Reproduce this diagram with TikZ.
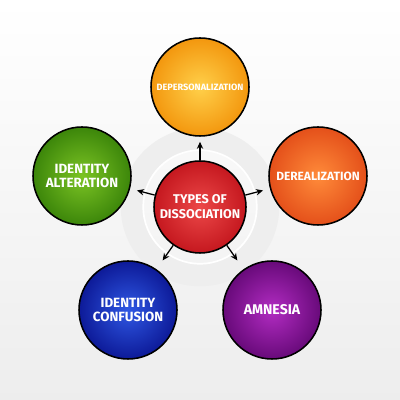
\documentclass[tikz,border=0pt]{standalone}
\usepackage{fontspec}
\setmainfont{Fira Sans}
\usetikzlibrary{arrows.meta,calc}

\definecolor{depin}{HTML}{FFD04A}
\definecolor{depout}{HTML}{F3970E}
\definecolor{derin}{HTML}{FF8B3A}
\definecolor{derout}{HTML}{E4501A}
\definecolor{altin}{HTML}{7CC424}
\definecolor{altout}{HTML}{3C860A}
\definecolor{confin}{HTML}{2F58E4}
\definecolor{confout}{HTML}{0D1A98}
\definecolor{amnin}{HTML}{B22CC2}
\definecolor{amnout}{HTML}{680A7A}
\definecolor{corein}{HTML}{EC4848}
\definecolor{coreout}{HTML}{C5181F}

\begin{document}
\begin{tikzpicture}[
  bubble/.style={circle,draw=black,line width=1.1pt,minimum size=2.45cm,
    inner sep=0pt,align=center,text=white,font=\bfseries\fontsize{6.5}{7.5}\selectfont},
  arr/.style={-{Stealth[length=5pt,width=4.5pt]},line width=0.9pt}]
\useasboundingbox (0,0) rectangle (10,10);
\shade[top color=white,bottom color=gray!14] (0,0) rectangle (10,10);

% swirl behind the middle
\draw[gray!13,line width=16pt] (5,4.825) circle (1.7);
\draw[white,line width=1.2pt] (5,4.825) circle (1.42);

\node[bubble,minimum size=2.3cm,inner color=corein,outer color=coreout,
  font=\bfseries\fontsize{9}{10.5}\selectfont] (core) at (5,4.825) {TYPES OF\\DISSOCIATION};

\node[bubble,inner color=depin,outer color=depout] (dep) at (5,7.825) {DEPERSONALIZATION};
\node[bubble,inner color=derin,outer color=derout,
  font=\bfseries\fontsize{8.5}{9.5}\selectfont] (der) at (7.95,5.6) {DEREALIZATION};
\node[bubble,inner color=altin,outer color=altout,
  font=\bfseries\fontsize{9.5}{10.5}\selectfont] (alt) at (2.05,5.6) {IDENTITY\\ALTERATION};
\node[bubble,inner color=confin,outer color=confout,
  font=\bfseries\fontsize{9.5}{10.5}\selectfont] (conf) at (3.2,2.25) {IDENTITY\\CONFUSION};
\node[bubble,inner color=amnin,outer color=amnout,
  font=\bfseries\fontsize{10}{11}\selectfont] (amn) at (6.8,2.25) {AMNESIA};

\foreach \t in {dep,der,alt,conf,amn}{
  \coordinate (tip-\t) at ($(core.center)!1.63cm!(\t.center)$);
  \draw[arr] (core) -- (tip-\t);
}
\end{tikzpicture}
\end{document}
